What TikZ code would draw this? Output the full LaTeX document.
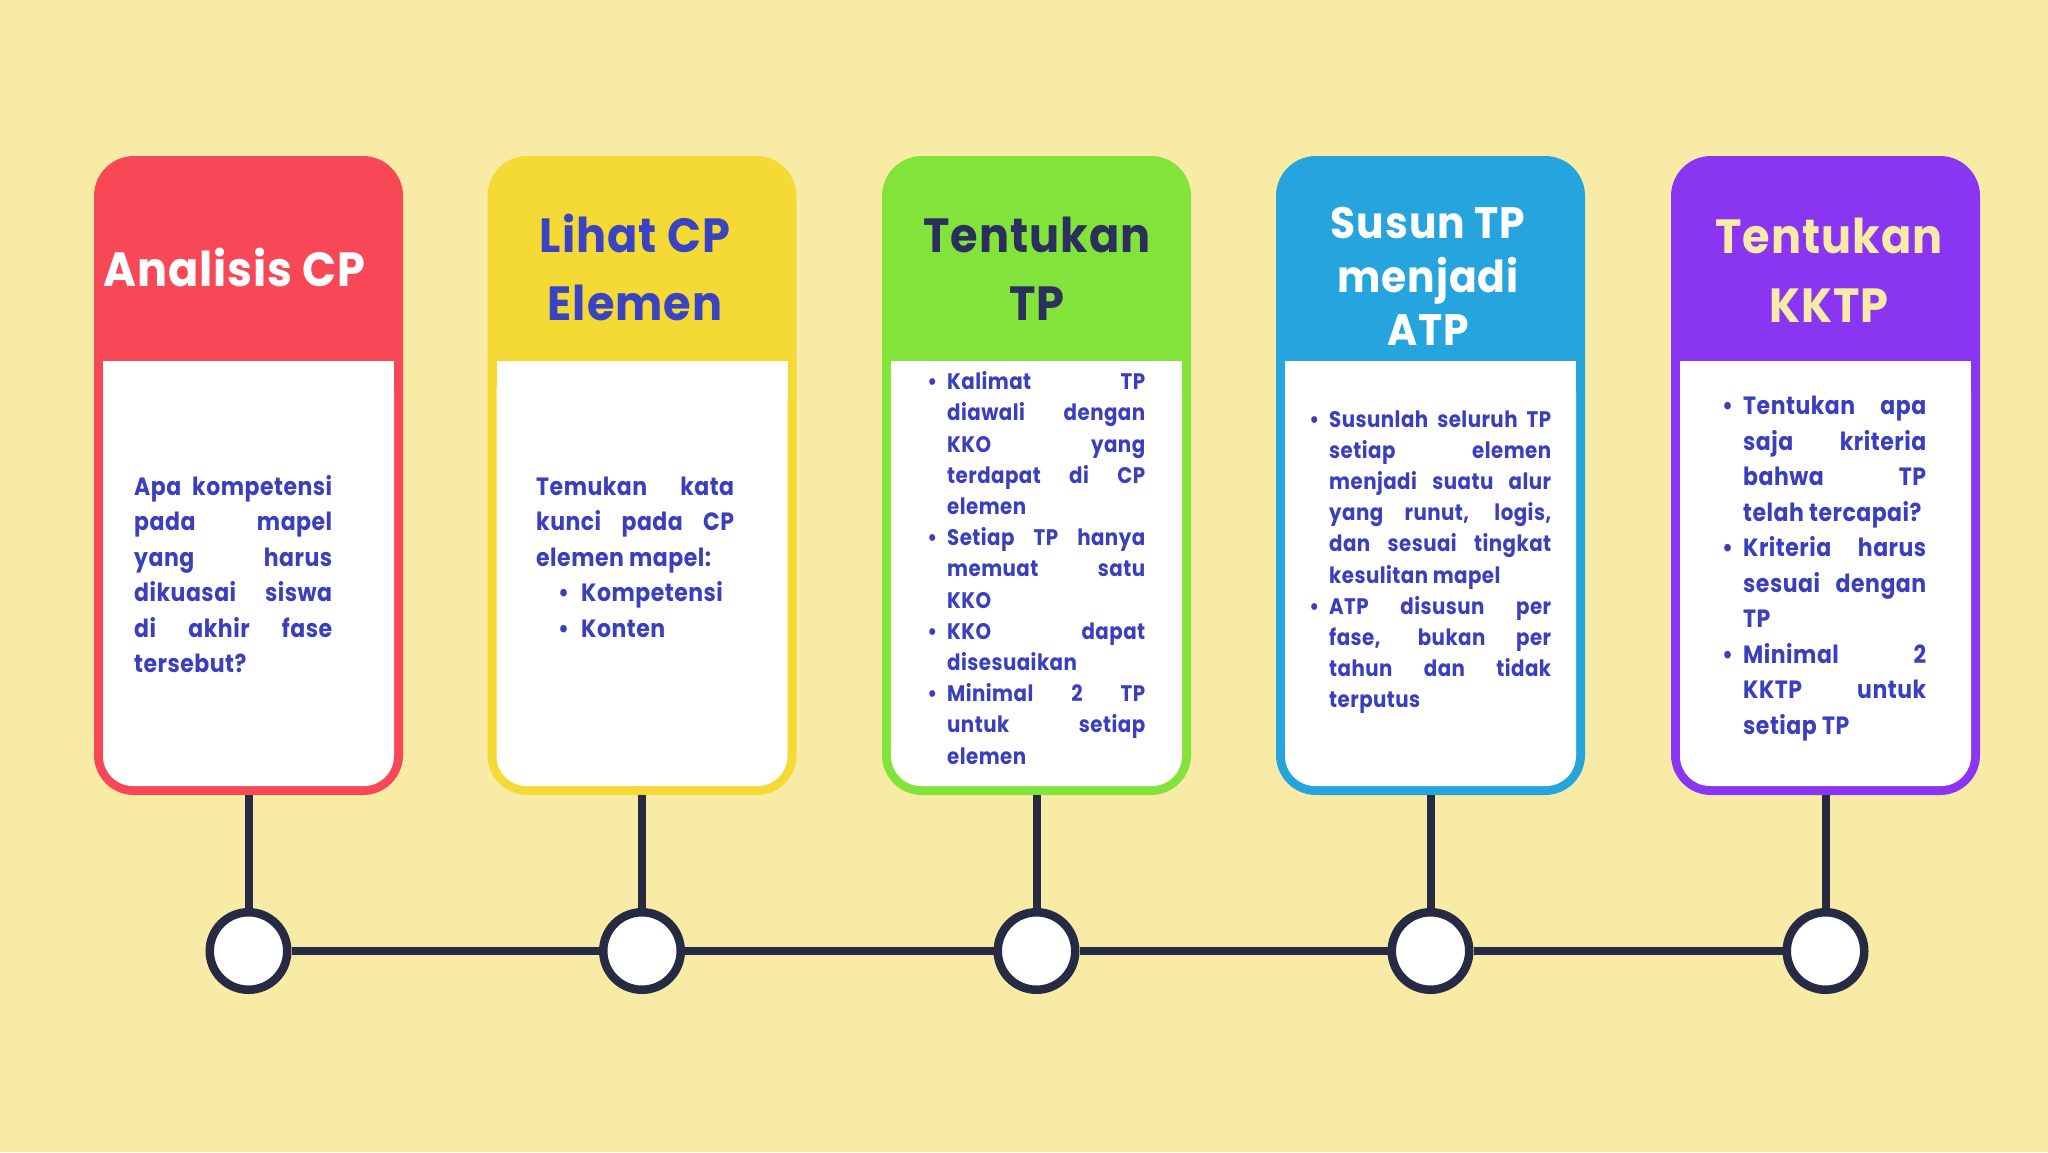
\documentclass[tikz,border=0pt]{standalone}
\usepackage{fontspec}
\setmainfont{Poppins}
\newfontfamily\bodyfont{Poppins}[FakeStretch=0.88,LetterSpace=2]
\newfontfamily\headfont{Poppins}[FakeStretch=0.93,LetterSpace=2]
\definecolor{bg}{HTML}{F7EBA5}
\definecolor{cred}{HTML}{F84857}
\definecolor{cyel}{HTML}{F5DA36}
\definecolor{cgrn}{HTML}{82E33A}
\definecolor{cblu}{HTML}{26A4DD}
\definecolor{cpur}{HTML}{8A35F1}
\definecolor{lnv}{HTML}{262A42}
\definecolor{txt}{HTML}{3A3FBE}
\definecolor{tblue}{HTML}{3A44C2}
\definecolor{tnavy}{HTML}{2B2F5C}
\setlength\parindent{0pt}
\setlength\parskip{0pt}
\newcommand\JL[1]{\makebox[\linewidth][s]{#1}\par}
\newcommand\LL[1]{\mbox{#1}\par}
\newcommand\BJ[1]{\leavevmode\llap{\textbullet\hspace{10pt}}\makebox[\linewidth][s]{#1}\par}
\newcommand\BL[1]{\leavevmode\llap{\textbullet\hspace{10pt}}\mbox{#1}\par}
\newcommand\bigtxt{\bodyfont\bfseries\fontsize{25}{35.5}\selectfont}
\newcommand\smalltxt{\bodyfont\bfseries\fontsize{22.5}{31.2}\selectfont}
\begin{document}
\begin{tikzpicture}[x=1pt,y=-1pt,
  card/.style={rounded corners=40pt, minimum width=309pt, minimum height=639pt, inner sep=0pt, outer sep=0pt},
  dot/.style={circle, draw=lnv, line width=8.5pt, fill=white, minimum size=77.5pt, inner sep=0pt},
  conn/.style={draw=lnv, line width=8pt},
  body/.style={anchor=base west, inner sep=0pt, text=txt},
  head/.style={anchor=base, inner sep=0pt}]
\useasboundingbox[fill=bg] (0,0) rectangle (2048,1152);
\foreach \i/\cx/\col in {1/248.5/cred, 2/642/cyel, 3/1036.5/cgrn, 4/1430.5/cblu, 5/1825.5/cpur} {
  \node[card, fill=\col] (c\i) at (\cx,475.5) {};
  \fill[white, rounded corners=30pt] (\cx-145.5,361) rectangle (\cx+145.5,786);
  \fill[white] (\cx-145.5,361) rectangle (\cx+145.5,400);
  \node[dot] (k\i) at (\cx,951) {};
  \draw[conn] (c\i.south) -- (k\i.north);
}
\draw[conn] (k1) -- (k2);
\draw[conn] (k2) -- (k3);
\draw[conn] (k3) -- (k4);
\draw[conn] (k4) -- (k5);
% titles
\node[head, text=white] (h1) at (234.5,286.8) {\parbox[t]{300pt}{\centering\headfont\bfseries\fontsize{48}{68}\selectfont Analisis CP}};
\node[head, text=tblue] (h2) at (635,252.8) {\parbox[t]{300pt}{\centering\headfont\bfseries\fontsize{48}{68}\selectfont Lihat CP\par Elemen}};
\node[head, text=tnavy] (h3) at (1037,252.8) {\parbox[t]{300pt}{\centering\headfont\bfseries\fontsize{48}{67.5}\selectfont Tentukan\par TP}};
\node[head, text=white] (h4) at (1428,238.3) {\parbox[t]{300pt}{\centering\headfont\bfseries\fontsize{44}{53.7}\selectfont Susun TP\par menjadi\par ATP}};
\node[head, text=bg] (h5) at (1829,253.6) {\parbox[t]{300pt}{\centering\headfont\bfseries\fontsize{48}{68.4}\selectfont Tentukan\par KKTP}};
% bodies
\node[body] (b1) at (134,495) {\parbox[t]{198pt}{\bigtxt
\JL{Apa kompetensi}
\JL{pada mapel}
\JL{yang harus}
\JL{dikuasai siswa}
\JL{di akhir fase}
\LL{tersebut?}}};
\node[body] (b2) at (536,495) {\parbox[t]{198pt}{\bigtxt
\JL{Temukan kata}
\JL{kunci pada CP}
\LL{elemen mapel:}
\leavevmode\hspace*{45pt}\llap{\textbullet\hspace{12pt}}Kompetensi\par
\leavevmode\hspace*{45pt}\llap{\textbullet\hspace{12pt}}Konten\par}};
\node[body] (b3) at (947,389.6) {\parbox[t]{198pt}{\smalltxt
\BJ{Kalimat TP}
\JL{diawali dengan}
\JL{KKO yang}
\JL{terdapat di CP}
\LL{elemen}
\BJ{Setiap TP hanya}
\JL{memuat satu}
\LL{KKO}
\BJ{KKO dapat}
\LL{disesuaikan}
\BJ{Minimal 2 TP}
\JL{untuk setiap}
\LL{elemen}}};
\node[body] (b4) at (1329,427) {\parbox[t]{222pt}{\smalltxt
\BJ{Susunlah seluruh TP}
\JL{setiap elemen}
\JL{menjadi suatu alur}
\JL{yang runut, logis,}
\JL{dan sesuai tingkat}
\LL{kesulitan mapel}
\BJ{ATP disusun per}
\JL{fase, bukan per}
\JL{tahun dan tidak}
\LL{terputus}}};
\node[body] (b5) at (1743,414.5) {\parbox[t]{183pt}{\bigtxt
\BJ{Tentukan apa}
\JL{saja kriteria}
\JL{bahwa TP}
\LL{telah tercapai?}
\BJ{Kriteria harus}
\JL{sesuai dengan}
\LL{TP}
\BJ{Minimal 2}
\JL{KKTP untuk}
\LL{setiap TP}}};
\end{tikzpicture}
\end{document}
